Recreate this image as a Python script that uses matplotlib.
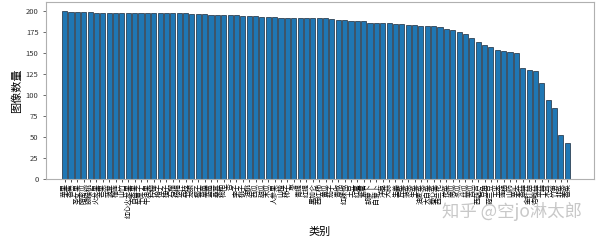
import numpy as np
import matplotlib
matplotlib.use('Agg')
import matplotlib.pyplot as plt

plt.rcParams['font.family'] = ['Noto Sans CJK SC', 'DejaVu Sans']
plt.rcParams['axes.unicode_minus'] = False

# category names (produce classes)
categories = ["苹果", "香蕉", "圣女果", "哈密瓜", "猕猴桃", "火龙果", "芒果", "菠萝", "榴莲", "山竹",
              "红心火龙果", "百香果", "车厘子", "牛油果", "柠檬", "橙子", "柚子", "石榴", "杨梅", "荔枝",
              "龙眼", "椰子", "草莓", "蓝莓", "桑葚", "枇杷", "杏", "李子", "桃子", "油桃",
              "西瓜", "甜瓜", "木瓜", "人参果", "山楂", "柿子", "枣", "青提", "红提", "黑加仑",
              "西红柿", "黄瓜", "茄子", "青椒", "红辣椒", "土豆", "红薯", "紫薯", "胡萝卜", "白萝卜",
              "洋葱", "大蒜", "生姜", "芹菜", "菠菜", "生菜", "油麦菜", "大白菜", "卷心菜", "西兰花",
              "花菜", "南瓜", "冬瓜", "丝瓜", "苦瓜", "西葫芦", "豆角", "荷兰豆", "玉米", "莲藕",
              "山药", "芋头", "香菇", "金针菇", "杏鲍菇", "平菇", "木耳", "竹笋", "韭菜", "香菜"]

# image counts per category
counts = [200, 199, 199, 199, 199, 198, 198, 198, 198, 198, 198, 198, 197, 197, 197, 197,
          197, 197, 197, 197, 196, 196, 196, 195, 195, 195, 195, 195, 194, 194, 194, 193,
          193, 193, 192, 192, 192, 192, 191, 191, 191, 191, 190, 189, 189, 188, 188, 188, 186,
          186, 186, 185, 184, 184, 183, 183, 182, 182, 182, 181, 179, 177, 175, 172,
          168, 163, 160, 157, 154, 152, 151, 150, 132, 130, 129, 114, 94, 85, 52, 43]

fig = plt.figure(figsize=(6, 2.4), dpi=100)
ax = fig.add_axes([0.077, 0.253, 0.913, 0.737])

x = np.arange(len(categories))
ax.bar(x, counts, width=0.8, color='#1f77b4', edgecolor='#1a2a3a', linewidth=0.5)
ax.set_xlim(-2.9, len(categories) + 3.2)

ax.set_xticks(x)
ax.set_xticklabels(categories, rotation=90, fontsize=5)
ax.tick_params(axis='y', labelsize=5.5, length=2, width=0.5, colors='#333333')
ax.tick_params(axis='x', length=2, width=0.5, pad=1)
ax.set_yticks([0, 25, 50, 75, 100, 125, 150, 175, 200])
ax.set_ylabel('图像数量', fontsize=8, labelpad=3)
ax.set_xlabel('类别', fontsize=8)
ax.xaxis.set_label_coords(0.5, -0.27)

for s in ax.spines.values():
    s.set_color('#b0b0b0')
    s.set_linewidth(0.8)

# site watermark
fig.text(0.853, 0.117, '知乎 @空jo淋太郎', fontsize=12.5, color='#c8c8c8',
         ha='center', va='center', zorder=10)

fig.savefig('out.png', dpi=100)
